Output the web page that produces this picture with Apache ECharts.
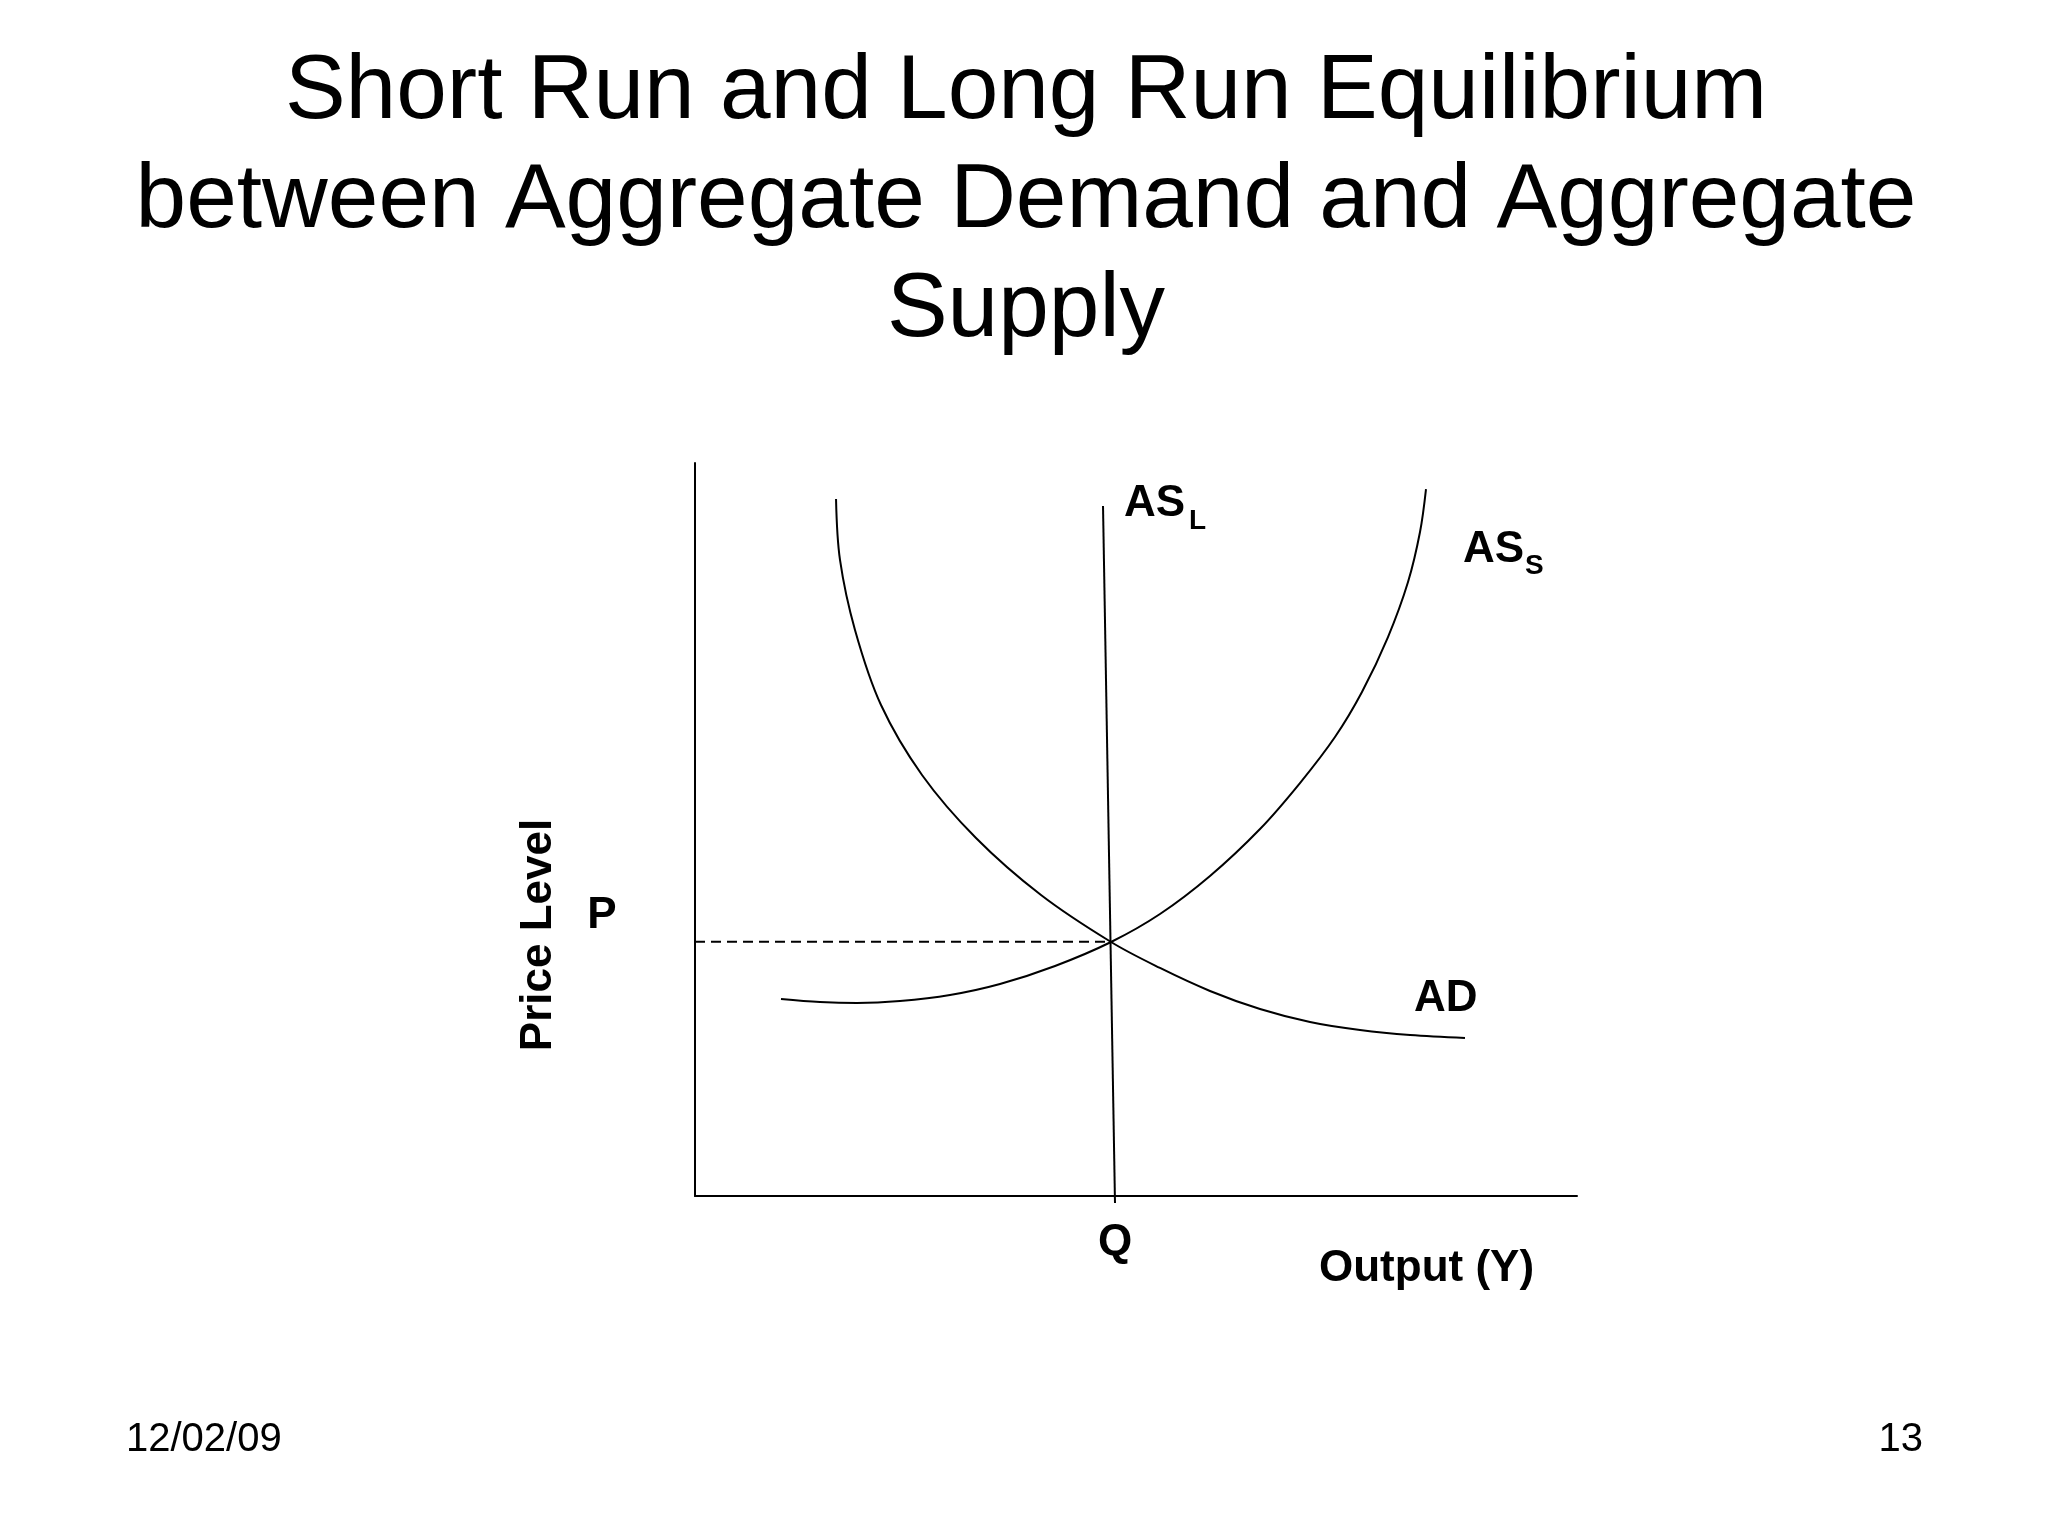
<!DOCTYPE html>
<html>
<head>
<meta charset="utf-8">
<script src="https://cdn.jsdelivr.net/npm/echarts@6/dist/echarts.min.js"></script>
<style>
html,body{margin:0;padding:0;background:#fff;}
#c{width:2048px;height:1536px;}
</style>
</head>
<body>
<div id="c"></div>
<script>
// ---- data (chart units: output 0-100, price level 0-100) ----
var titleLines = ['Short Run and Long Run Equilibrium', 'between Aggregate Demand and Aggregate', 'Supply'];
var equilibriumQ = 47.17;
var equilibriumP = 34.7;
var adCurve = [[15.99,95.09],[16.44,86.77],[18.14,77.22],[21.09,66.98],[25.74,57.44],[31.86,48.84],[39.23,41.06],[47.17,34.65],[52.72,31.11],[58.39,27.97],[64.06,25.51],[69.73,23.74],[75.40,22.65],[81.07,21.96],[87.30,21.56]];
var asShortCurve = [[9.75,26.88],[14.17,26.47],[18.37,26.33],[23.24,26.60],[28.91,27.42],[34.58,28.92],[40.82,31.38],[47.17,34.65],[52.72,38.47],[58.39,43.66],[64.06,50.07],[68.59,56.34],[72.56,62.62],[75.62,68.76],[78.57,76.26],[80.84,83.77],[82.20,90.59],[82.88,96.45]];
var asLongLine = [[46.26,94.13],[47.62,-0.95]];
var priceLine = [[0,equilibriumP],[equilibriumQ,equilibriumP]];
var axisLabels = {y:'Price Level', x:'Output (Y)', p:'P', q:'Q'};
var curveLabels = {asL:['AS','L'], asS:['AS','S'], ad:'AD'};
var footer = {date:'12/02/09', page:'13'};

var FONT = 'Liberation Sans, Arial, Helvetica, sans-serif';
var chart = echarts.init(document.getElementById('c'), null, {renderer:'canvas'});

function txt(text, x, y, size, weight, align, extra){
  var el = {
    type:'text', x:x, y:y, silent:true,
    style:{
      text:text, x:0, y:0,
      fill:'#000',
      font: (weight||'normal') + ' ' + size + 'px ' + FONT,
      align: align||'left', verticalAlign:'middle',
      textAlign: align||'left', textVerticalAlign:'middle'
    }
  };
  if (extra) for (var k in extra) el[k] = extra[k];
  return el;
}

var graphics = [
  txt(titleLines[0], 1026, 93, 91, 'normal', 'center'),
  txt(titleLines[1], 1026, 202, 91, 'normal', 'center'),
  txt(titleLines[2], 1026, 311, 91, 'normal', 'center'),
  txt(axisLabels.y, 539, 935, 44, 'bold', 'center', {rotation: Math.PI/2}),
  txt(axisLabels.p, 602, 916, 44, 'bold', 'center'),
  txt(axisLabels.q, 1115, 1243, 44, 'bold', 'center'),
  txt(axisLabels.x, 1319, 1269, 44, 'bold', 'left'),
  txt(curveLabels.asL[0], 1124, 504, 44, 'bold', 'left'),
  txt(curveLabels.asL[1], 1189, 521, 28, 'bold', 'left'),
  txt(curveLabels.asS[0], 1463, 550, 44, 'bold', 'left'),
  txt(curveLabels.asS[1], 1525, 566, 28, 'bold', 'left'),
  txt(curveLabels.ad, 1414, 999, 44, 'bold', 'left'),
  txt(footer.date, 126, 1440, 40, 'normal', 'left'),
  txt(footer.page, 1923, 1440, 40, 'normal', 'right')
];

var lineStyle = {color:'#000', width:2};
chart.setOption({
  animation:false,
  backgroundColor:'#fff',
  grid:{left:695, top:463, width:882, height:733, containLabel:false},
  xAxis:{type:'value', min:0, max:100,
    axisLine:{show:true, onZero:false, lineStyle:{color:'#000', width:2}},
    axisTick:{show:false}, axisLabel:{show:false}, splitLine:{show:false}},
  yAxis:{type:'value', min:0, max:100,
    axisLine:{show:true, onZero:false, lineStyle:{color:'#000', width:2}},
    axisTick:{show:false}, axisLabel:{show:false}, splitLine:{show:false}},
  series:[
    {name:'AD', type:'line', data:adCurve, smooth:0.35, showSymbol:false, symbol:'none', lineStyle:lineStyle, silent:true},
    {name:'ASs', type:'line', data:asShortCurve, smooth:0.35, showSymbol:false, symbol:'none', lineStyle:lineStyle, silent:true},
    {name:'ASl', type:'line', data:asLongLine, showSymbol:false, symbol:'none', clip:false, lineStyle:lineStyle, silent:true},
    {name:'P', type:'line', data:priceLine, showSymbol:false, symbol:'none', lineStyle:{color:'#000', width:2, type:[10,6]}, silent:true}
  ],
  graphic:graphics
});
</script>
</body>
</html>
